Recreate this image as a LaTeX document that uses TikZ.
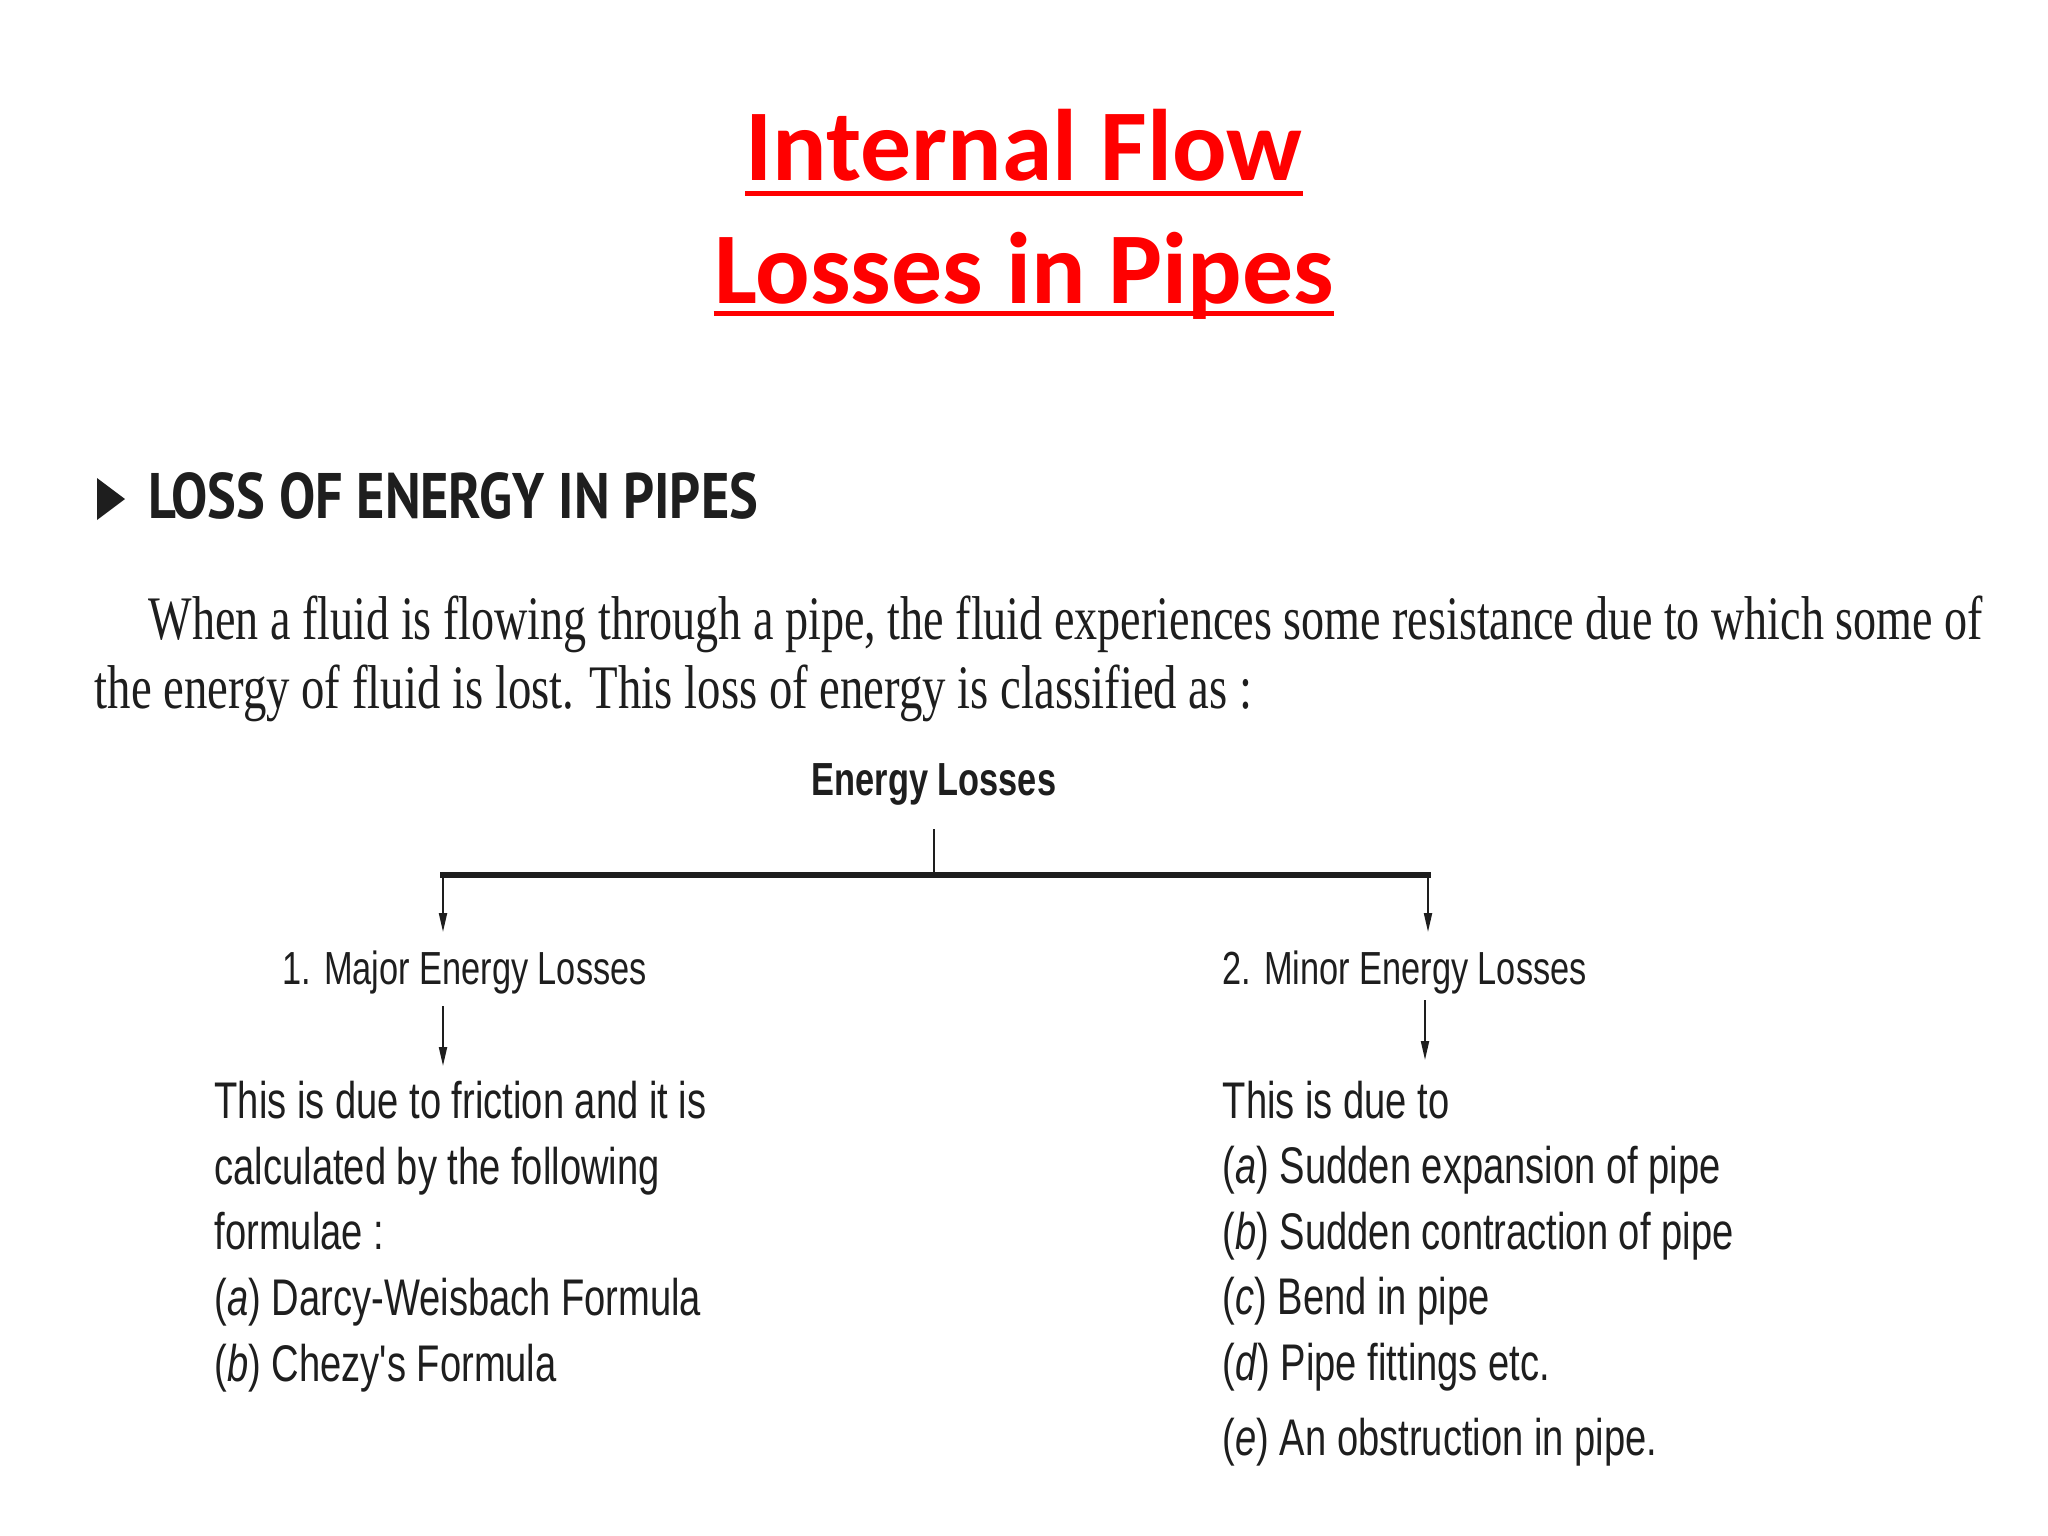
\documentclass[tikz,border=0pt]{standalone}
\usepackage{fontspec}
\usepackage{graphicx}
\usetikzlibrary{arrows.meta}
\setmainfont{Liberation Serif}
\newfontfamily\titlefont{Carlito}
\newfontfamily\headfont{PT Sans}
\newfontfamily\narrowsans[FakeStretch=0.74]{Liberation Sans}
\definecolor{ink}{HTML}{1E1E1E}
\definecolor{titlered}{HTML}{FF0000}
\tikzset{
  titletext/.style={inner sep=0pt, text=titlered, font=\titlefont\bfseries\fontsize{28.9}{34}\selectfont},
  uline/.style={draw=titlered, line width=0.05cm},
  plaintext/.style={inner sep=0pt, text=ink},
  diag/.style={inner sep=0pt, text=ink, font=\narrowsans\fontsize{14.65}{18.66}\selectfont},
  diaghead/.style={diag, font=\narrowsans\fontsize{13.2}{16}\selectfont},
  diagblock/.style={diag, align=left},
  stemline/.style={draw=ink, line width=0.02cm},
  barline/.style={draw=ink, line width=0.06cm},
  arrowline/.style={draw=ink, line width=0.02cm, -{Triangle[length=0.19cm,width=0.08cm]}},
}
\begin{document}
\begin{tikzpicture}[x=0.01cm,y=-0.01cm]
\useasboundingbox (0,0) rectangle (2048,1536);
\fill[white] (0,0) rectangle (2048,1536);

% title
\node[titletext, anchor=base] (t1) at (1024,180) {Internal Flow};
\node[titletext, anchor=base] (t2) at (1024,303) {Losses in Pipes};
\draw[uline] ([yshift=-0.13cm]t1.base west) -- ([yshift=-0.13cm]t1.base east);
\draw[uline] ([yshift=-0.10cm]t2.base west) -- ([yshift=-0.10cm]t2.base east);

% heading
\fill[ink] (97,478) -- (125,499) -- (97,520) -- cycle;
\node[plaintext, anchor=base west] (hd) at (148,518)
  {\resizebox{6.09cm}{\height}{\headfont\bfseries\fontsize{18.3}{22}\selectfont LOSS OF ENERGY IN PIPES}};

% paragraph
\node[plaintext, anchor=base west] (p1) at (148,639)
  {\resizebox{18.33cm}{\height}{\fontsize{17.6}{20}\selectfont When a fluid is flowing through a pipe, the fluid experiences some resistance due to which some of}};
\node[plaintext, anchor=base west] (p2) at (94,708)
  {\resizebox{11.57cm}{\height}{\fontsize{17.6}{20}\selectfont the energy of fluid is lost. This loss of energy is classified as :}};

% diagram
\node[diag, anchor=base, font=\narrowsans\bfseries\fontsize{13.2}{16}\selectfont] (el) at (934,795) {Energy Losses};
\coordinate (s0) at (934,829);
\coordinate (jn) at (934,875);
\coordinate (bl) at (443,875);
\coordinate (br) at (1428,875);
\coordinate (al) at (443,932);
\coordinate (ar) at (1428,932);

\node[diaghead, anchor=base west] (maj) at (282,984) {1. Major Energy Losses};
\node[diaghead, anchor=base west] (min) at (1222,984) {2. Minor Energy Losses};

\coordinate (ml0) at (443,1006);
\coordinate (ml1) at (443,1066);
\coordinate (mr0) at (1425,1000);
\coordinate (mr1) at (1425,1060);

% base anchor of a multi-line node is its last line
\node[diagblock, anchor=base west] (lb) at (214,1381)
  {This is due to friction and it is\\
   calculated by the following\\
   formulae :\\
   (\textit{a}) Darcy-Weisbach Formula\\
   (\textit{b}) Chezy's Formula};
\node[diagblock, anchor=base west] (rb) at (1222,1455)
  {This is due to\\
   (\textit{a}) Sudden expansion of pipe\\
   (\textit{b}) Sudden contraction of pipe\\
   (\textit{c}) Bend in pipe\\
   (\textit{d}) Pipe fittings etc.\\[2.5pt]
   (\textit{e}) An obstruction in pipe.};

\draw[stemline] (s0) -- (jn);
\draw[barline, line cap=rect] (bl) -- (br);
\draw[arrowline] (bl) -- (al);
\draw[arrowline] (br) -- (ar);
\draw[arrowline] (ml0) -- (ml1);
\draw[arrowline] (mr0) -- (mr1);
\end{tikzpicture}
\end{document}
